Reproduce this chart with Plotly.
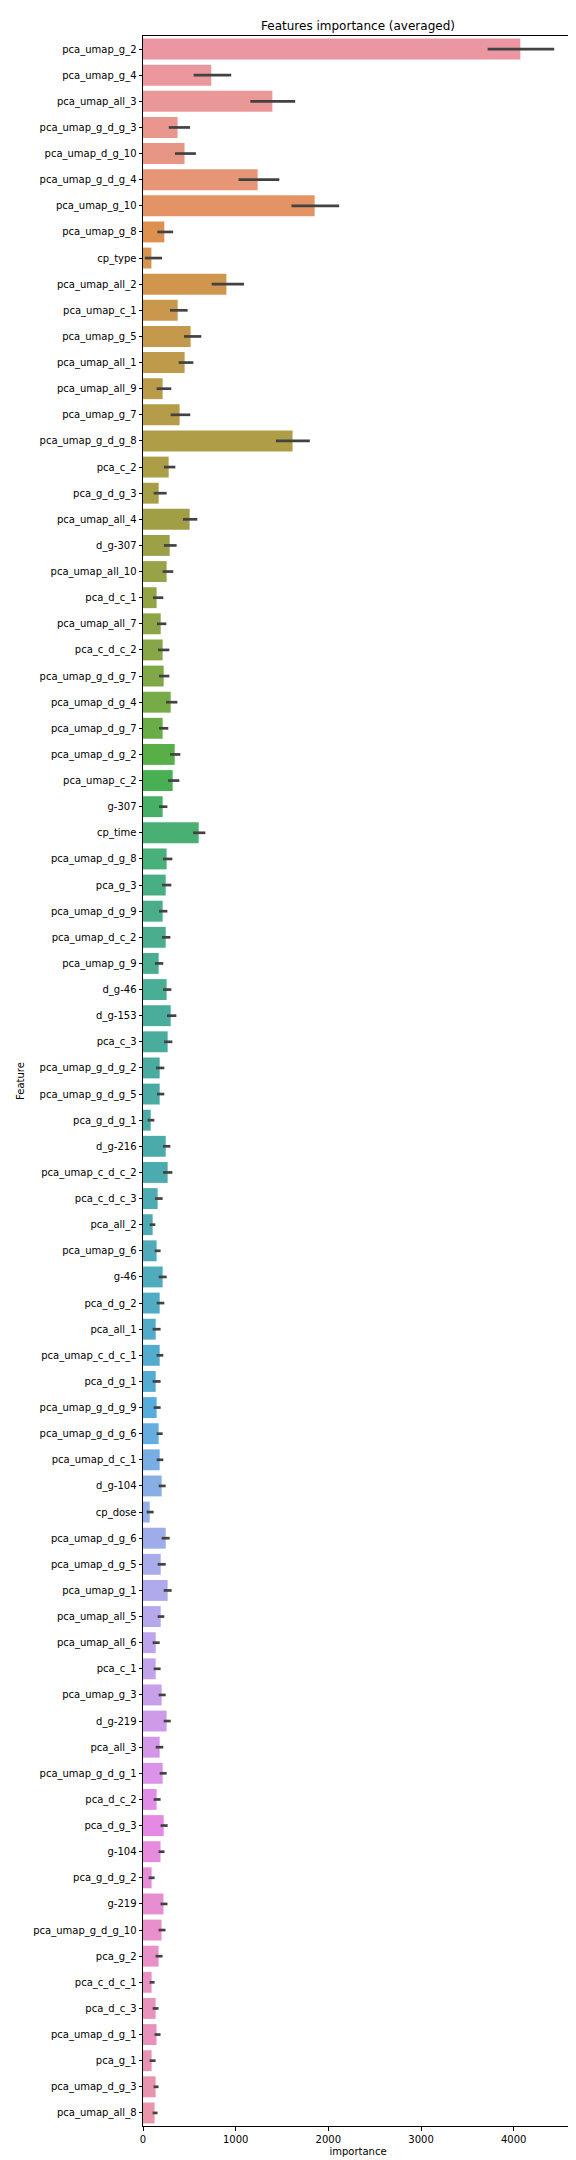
import math
import colorsys
import plotly.graph_objects as go

# --- values (importance, CI low, CI high) ---
features = [
    "pca_umap_g_2", "pca_umap_g_4", "pca_umap_all_3", "pca_umap_g_d_g_3", "pca_umap_d_g_10",
    "pca_umap_g_d_g_4", "pca_umap_g_10", "pca_umap_g_8", "cp_type", "pca_umap_all_2",
    "pca_umap_c_1", "pca_umap_g_5", "pca_umap_all_1", "pca_umap_all_9", "pca_umap_g_7",
    "pca_umap_g_d_g_8", "pca_c_2", "pca_g_d_g_3", "pca_umap_all_4", "d_g-307",
    "pca_umap_all_10", "pca_d_c_1", "pca_umap_all_7", "pca_c_d_c_2", "pca_umap_g_d_g_7",
    "pca_umap_d_g_4", "pca_umap_d_g_7", "pca_umap_d_g_2", "pca_umap_c_2", "g-307",
    "cp_time", "pca_umap_d_g_8", "pca_g_3", "pca_umap_d_g_9", "pca_umap_d_c_2",
    "pca_umap_g_9", "d_g-46", "d_g-153", "pca_c_3", "pca_umap_g_d_g_2",
    "pca_umap_g_d_g_5", "pca_g_d_g_1", "d_g-216", "pca_umap_c_d_c_2", "pca_c_d_c_3",
    "pca_all_2", "pca_umap_g_6", "g-46", "pca_d_g_2", "pca_all_1",
    "pca_umap_c_d_c_1", "pca_d_g_1", "pca_umap_g_d_g_9", "pca_umap_g_d_g_6", "pca_umap_d_c_1",
    "d_g-104", "cp_dose", "pca_umap_d_g_6", "pca_umap_d_g_5", "pca_umap_g_1",
    "pca_umap_all_5", "pca_umap_all_6", "pca_c_1", "pca_umap_g_3", "d_g-219",
    "pca_all_3", "pca_umap_g_d_g_1", "pca_d_c_2", "pca_d_g_3", "g-104",
    "pca_g_d_g_2", "g-219", "pca_umap_g_d_g_10", "pca_g_2", "pca_c_d_c_1",
    "pca_d_c_3", "pca_umap_d_g_1", "pca_g_1", "pca_umap_d_g_3", "pca_umap_all_8",
]

importance = [
    4072, 737, 1396, 373, 448, 1237, 1852, 230, 91, 900,
    374, 514, 449, 212, 395, 1614, 277, 169, 503, 288,
    255, 147, 191, 212, 223, 299, 212, 342, 320, 212,
    601, 255, 245, 212, 245, 169, 255, 299, 266, 180,
    180, 83, 245, 266, 158, 104, 147, 212, 180, 137,
    180, 137, 147, 169, 180, 201, 72, 245, 191, 266,
    191, 137, 137, 201, 255, 180, 212, 147, 223, 189,
    93, 221, 200, 168, 93, 136, 146, 93, 136, 125,
]

ci_low = [
    3719, 547, 1158, 278, 345, 1031, 1602, 155, 20, 741,
    291, 442, 385, 147, 298, 1434, 226, 115, 431, 226,
    212, 108, 151, 162, 173, 248, 173, 291, 270, 173,
    540, 216, 205, 173, 205, 129, 216, 259, 227, 140,
    151, 50, 216, 216, 129, 72, 126, 169, 147, 104,
    147, 104, 115, 147, 147, 169, 40, 201, 158, 223,
    158, 104, 115, 169, 223, 137, 180, 115, 190, 168,
    61, 189, 168, 136, 71, 104, 125, 71, 114, 104,
]

ci_high = [
    4437, 952, 1642, 508, 571, 1471, 2117, 325, 206, 1090,
    482, 629, 543, 305, 510, 1800, 349, 255, 586, 363,
    327, 219, 252, 284, 284, 371, 273, 403, 392, 263,
    673, 317, 306, 263, 295, 219, 306, 360, 317, 230,
    230, 122, 295, 317, 212, 133, 190, 255, 230, 190,
    219, 190, 190, 212, 219, 245, 115, 288, 245, 309,
    230, 180, 190, 245, 299, 219, 255, 190, 266, 232,
    125, 264, 243, 211, 125, 168, 189, 136, 168, 157,
]

x_ticks = [0, 1000, 2000, 3000, 4000]


# --- seaborn-style husl palette (l=.7, s=.9, h=.01), desaturated to .75 ---
M = [
    [3.240969941904521, -1.537383177570093, -0.498610760293],
    [-0.96924363628087, 1.87596750150772, 0.041555057407175],
    [0.055630079696993, -0.20397695888897, 1.056971514242878],
]
REF_U, REF_V = 0.19783000664283, 0.46831999493879


def max_chroma(L, H):
    hrad = math.radians(H)
    sinH, cosH = math.sin(hrad), math.cos(hrad)
    sub1 = (L + 16) ** 3 / 1560896.0
    sub2 = sub1 if sub1 > 0.008856 else L / 903.3
    result = float("inf")
    for m1, m2, m3 in M:
        top = (0.99915 * m1 + 1.05122 * m2 + 1.14460 * m3) * sub2
        rbottom = 0.86330 * m3 - 0.17266 * m2
        lbottom = 0.12949 * m3 - 0.38848 * m1
        bottom = (rbottom * sinH + lbottom * cosH) * sub2
        for t in (0.0, 1.0):
            C = L * (top - 1.05122 * t) / (bottom + 0.17266 * sinH * t)
            if 0.0 < C < result:
                result = C
    return result


def husl_to_rgb(H, S, L):
    C = max_chroma(L, H) / 100.0 * S
    U = math.cos(math.radians(H)) * C
    V = math.sin(math.radians(H)) * C
    t = (L + 16.0) / 116.0
    Y = t ** 3 if t ** 3 > 0.0088564516 else (116.0 * t - 16.0) / 903.2962962
    vu = U / (13.0 * L) + REF_U
    vv = V / (13.0 * L) + REF_V
    X = -(9.0 * Y * vu) / ((vu - 4.0) * vv - vu * vv)
    Z = (9.0 * Y - 15.0 * vv * Y - vv * X) / (3.0 * vv)
    out = []
    for row in M:
        c = row[0] * X + row[1] * Y + row[2] * Z
        c = 12.92 * c if c <= 0.0031308 else 1.055 * c ** (1 / 2.4) - 0.055
        out.append(min(max(c, 0.0), 1.0))
    return out


n = len(features)
colors = []
for i in range(n):
    h = ((i / n) + 0.01) % 1 * 359
    r, g, b = husl_to_rgb(h, 0.9 * 99, 0.7 * 99)
    hh, ll, ss = colorsys.rgb_to_hls(r, g, b)
    r, g, b = colorsys.hls_to_rgb(hh, ll, ss * 0.75)
    colors.append("rgb(%d,%d,%d)" % (round(r * 255), round(g * 255), round(b * 255)))

err_plus = [hi - v for hi, v in zip(ci_high, importance)]
err_minus = [v - lo for lo, v in zip(ci_low, importance)]

fig = go.Figure()
fig.add_trace(go.Bar(
    x=importance, y=features, orientation="h",
    marker=dict(color=colors, line=dict(width=0)),
    width=0.8,
    error_x=dict(type="data", array=err_plus, arrayminus=err_minus,
                 color="#424242", thickness=2.7, width=0),
))

font = dict(family="DejaVu Sans", size=10, color="black")
fig.update_layout(
    width=576, height=2160,
    margin=dict(l=135, r=11, t=28, b=42),
    paper_bgcolor="white", plot_bgcolor="white",
    font=font,
    showlegend=False,
    title=dict(text="Features importance (averaged)", x=(135 + 565) / 2 / 576,
               xanchor="center", y=1 - 18 / 2160, yanchor="middle",
               font=dict(family="DejaVu Sans", size=12, color="black")),
    bargap=0.2,
)
fig.update_xaxes(
    range=[0, 4640], tickvals=x_ticks, ticktext=[str(v) for v in x_ticks],
    showgrid=False, zeroline=False,
    showline=True, mirror=True, linecolor="black", linewidth=1,
    ticks="outside", ticklen=3.5, tickwidth=0.8, tickcolor="black",
    title=dict(text="importance", standoff=4, font=font),
    automargin=True,
)
fig.update_yaxes(
    autorange="reversed", type="category",
    showgrid=False, zeroline=False,
    showline=True, mirror=True, linecolor="black", linewidth=1,
    ticks="outside", ticklen=3.5, tickwidth=0.8, tickcolor="black",
    title=dict(text="Feature", standoff=6, font=font),
    automargin=True,
)

fig.write_html("out.html")
